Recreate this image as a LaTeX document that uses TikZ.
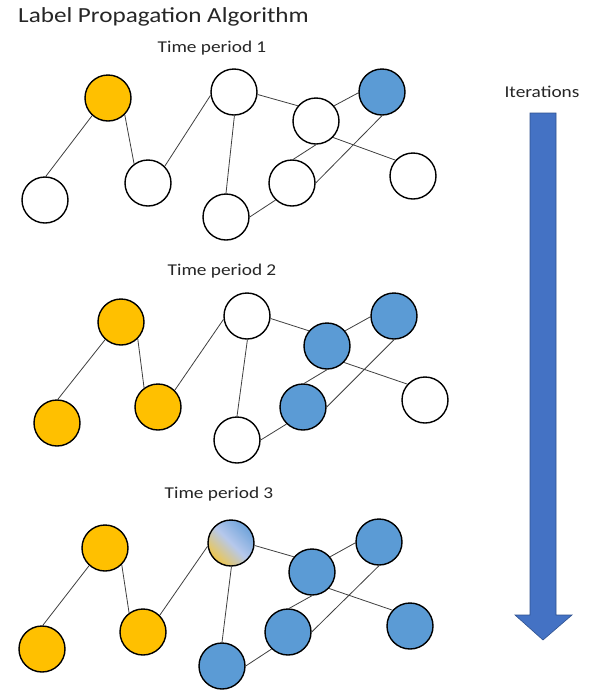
\documentclass[tikz,border=0pt]{standalone}
\usepackage{fontspec}
\setmainfont[FakeStretch=1.17]{Carlito}
\definecolor{nodeyellow}{HTML}{FFC000}
\definecolor{nodeblue}{HTML}{5B9BD5}
\definecolor{arrowblue}{HTML}{4472C4}
\definecolor{arrowedge}{HTML}{2F528F}
\definecolor{edgegray}{HTML}{404040}
\definecolor{mixyellow}{HTML}{EEC64A}
\definecolor{mixlav}{HTML}{B6C8EC}
\definecolor{mixblue}{HTML}{6FA3DA}
\begin{document}
\begin{tikzpicture}[x=1pt,y=-1pt,
  vtx/.style={circle,draw=black,line width=1.4pt,minimum size=46pt,inner sep=0pt},
  wn/.style={vtx,fill=white},
  yn/.style={vtx,fill=nodeyellow},
  bn/.style={vtx,fill=nodeblue},
  mn/.style={vtx,top color=mixblue,bottom color=mixyellow,middle color=mixlav,shading angle=-45},
  lnk/.style={draw=edgegray,line width=0.8pt},
  caption/.style={font=\fontsize{16.5}{18}\selectfont,text=black!85,anchor=base,inner sep=0pt},
  ttl/.style={font=\fontsize{21.5}{24}\selectfont,text=black!85,anchor=base west,inner sep=0pt}]
\useasboundingbox (0,0) rectangle (594,697);
\fill[white] (0,0) rectangle (594,697);

\node[ttl] (title) at (18,22) {Label Propagation Algorithm};

% ---------- period 1
\node[caption] (t1) at (212,52) {Time period 1};
\node[yn] (y1) at (108,98) {};
\node[wn] (a1) at (45,200) {};
\node[wn] (b1) at (148,183) {};
\node[wn] (c1) at (234,92) {};
\node[wn] (d1) at (226,217) {};
\node[wn] (e1) at (316,121) {};
\node[wn] (f1) at (292,183) {};
\node[bn] (g1) at (382,92) {};
\node[wn] (h1) at (413,176) {};

% ---------- period 2
\node[caption] (t2) at (222,275) {Time period 2};
\node[yn] (y2) at (121,322) {};
\node[yn] (a2) at (57,423) {};
\node[yn] (b2) at (158,407) {};
\node[wn] (c2) at (247,316) {};
\node[wn] (d2) at (237,440) {};
\node[bn] (e2) at (327,346) {};
\node[bn] (f2) at (303,407) {};
\node[bn] (g2) at (394,316) {};
\node[wn] (h2) at (425,400) {};

% ---------- period 3
\node[caption] (t3) at (219,498) {Time period 3};
\node[yn] (y3) at (105,548) {};
\node[yn] (a3) at (42,649) {};
\node[yn] (b3) at (143,632) {};
\node[mn] (c3) at (231,543) {};
\node[bn] (d3) at (222,666) {};
\node[bn] (e3) at (312,572) {};
\node[bn] (f3) at (288,632) {};
\node[bn] (g3) at (379,542) {};
\node[bn] (h3) at (410,626) {};

\foreach \p in {1,2,3}{
  \path[lnk] (y\p.228) -- (a\p.88)
             (y\p.-45) -- (b\p.126)
             (b\p.45) -- (c\p.188)
             (c\p.-89) -- (d\p.90)
             (c\p.-6) -- (e\p.140)
             (e\p.40) -- (g\p.182)
             (e\p.-90) -- (f\p.87)
             (e\p.-44) -- (h\p.138)
             (g\p.-90) -- (f\p.0)
             (d\p.0) -- (f\p.226);
}

% ---------- iterations arrow
\node[caption] (iter) at (542,97) {Iterations};
\fill[arrowblue,draw=arrowedge,line width=0.6pt]
  (530,113) -- (556,113) -- (556,615) -- (572,615) -- (543,640)
  -- (515,615) -- (530,615) -- cycle;
\end{tikzpicture}
\end{document}
